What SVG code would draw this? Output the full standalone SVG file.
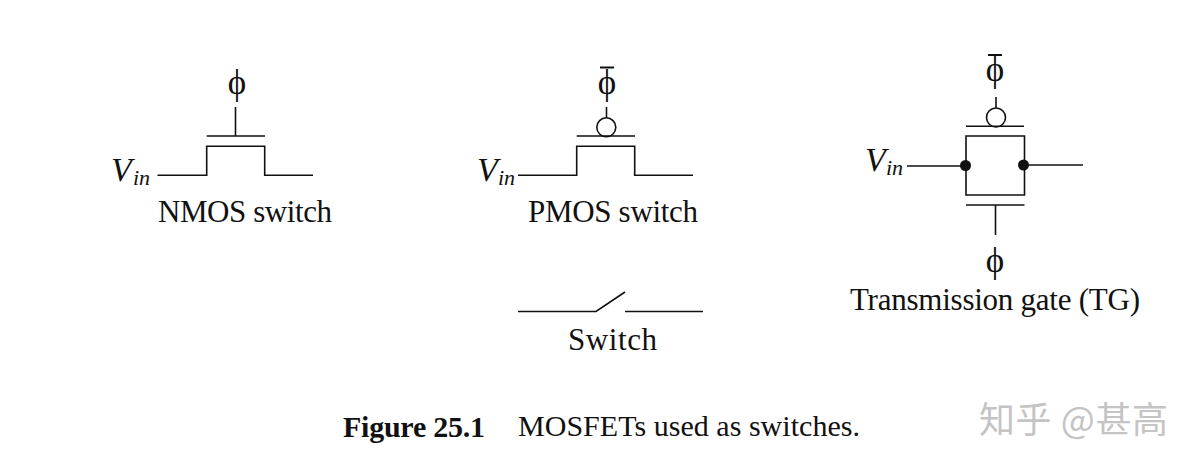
<svg xmlns="http://www.w3.org/2000/svg" width="1199" height="468" viewBox="0 0 1199 468">
<style>
text{font-family:"Liberation Serif","Noto Sans CJK SC",serif;fill:#111}
.l{font-size:31px}
.v{font-size:34px;font-style:italic}
.s{font-size:22px;font-style:italic}
.p{font-size:35px;text-anchor:middle}
.w{fill:none;stroke:#111;stroke-width:1.6}
.b{fill:none;stroke:#111;stroke-width:2.2}
.c{font-size:30px}
.m{font-family:"Noto Sans CJK SC","Liberation Sans",sans-serif;font-size:36px;fill:#c4c4c4}
</style>
<rect width="1199" height="468" fill="#fff"/>
<g id="connectors">
<path class="w" d="M157.500 175.300H206.700V146.300H264.700V175.300H313"/>
<path class="w" d="M206.700 136H265M235.500 107V136"/>
<path class="w" d="M518 175.300H576.700V146.300H634.700V175.300H693"/>
<path class="w" d="M576.700 136H635M606.500 107V117.500"/>
<path class="w" d="M966 126.300H1024M996 97V108"/>
<path class="w" d="M966 136H1024.500V195H966Z"/>
<path class="w" d="M907 166H966M1024 165H1083"/>
<path class="w" d="M966 205H1024.500M995.500 205V235"/>
<path class="w" d="M518 311.500H596L625 292M625 311.500H703"/>
<path class="b" d="M600 67.500H614M988 55H1002"/>
</g>
<g id="nmos">
<text class="p" x="237" y="94">ϕ</text>
<text class="v" x="111" y="181">V</text><text class="s" x="133" y="185">in</text>
<text class="l" x="158" y="222" textLength="174">NMOS switch</text>
</g>
<g id="pmos">
<circle class="w" cx="606.300" cy="127.300" r="9.500"/>
<text class="p" x="607" y="94">ϕ</text>
<text class="v" x="477" y="181">V</text><text class="s" x="498" y="185">in</text>
<text class="l" x="528" y="222" textLength="170">PMOS switch</text>
</g>
<g id="tg">
<circle class="w" cx="996" cy="117.500" r="9.500"/>
<circle cx="965.500" cy="165.500" r="5.500" fill="#111"/>
<circle cx="1023.500" cy="165" r="5.500" fill="#111"/>
<text class="p" x="995" y="81">ϕ</text>
<text class="p" x="995" y="272">ϕ</text>
<text class="v" x="865" y="171">V</text><text class="s" x="886" y="175">in</text>
<text class="l" x="850" y="310" textLength="290">Transmission gate (TG)</text>
</g>
<g id="switch">
<text class="l" x="568" y="350" textLength="89">Switch</text>
</g>
<g id="caption">
<text class="c" x="343" y="437" font-weight="bold" textLength="142">Figure 25.1</text>
<text class="c" x="518" y="436" textLength="342">MOSFETs used as switches.</text>
</g>
<text class="m" x="979" y="433" textLength="189">知乎 @甚高</text>
</svg>
